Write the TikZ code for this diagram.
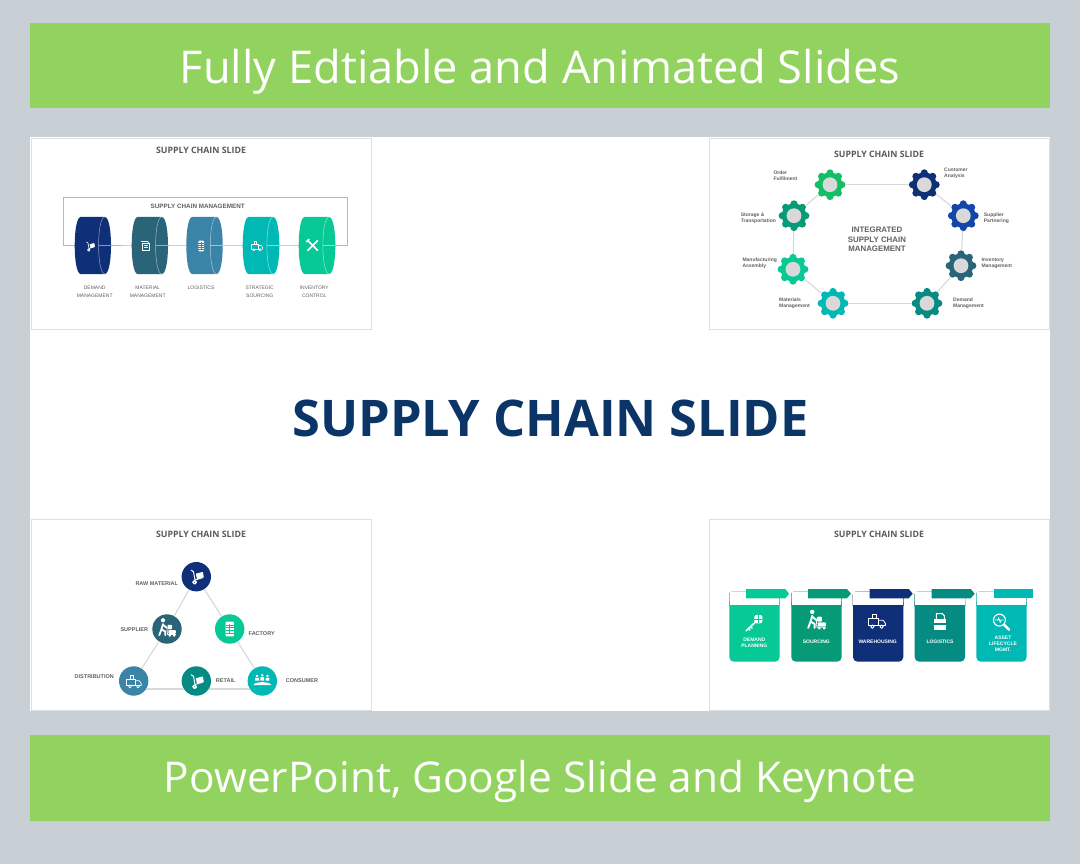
\documentclass[tikz,border=0pt]{standalone}
\usepackage{fontspec}
\setmainfont{Open Sans}
\newfontfamily\labfont{Liberation Sans}
\definecolor{pagegrey}{HTML}{C9D0D5}
\definecolor{bannergreen}{HTML}{92D35F}
\definecolor{titleblue}{HTML}{0A3566}
\definecolor{slidetitle}{HTML}{5A5A5A}
\definecolor{labgrey}{HTML}{606060}
\definecolor{edge}{HTML}{DDE0E3}
\definecolor{linkgrey}{HTML}{D6D8DA}
\definecolor{navy}{HTML}{0F2F78}
\definecolor{slate}{HTML}{2A6478}
\definecolor{steel}{HTML}{3A84A8}
\definecolor{aqua}{HTML}{00B8B4}
\definecolor{mint}{HTML}{06C995}
\definecolor{seagreen}{HTML}{079A76}
\definecolor{deepteal}{HTML}{068B82}
\definecolor{leaf}{HTML}{12BF63}
\definecolor{royal}{HTML}{1246A8}
\definecolor{gearcore}{HTML}{D9D9D9}
\tikzset{
  x=1pt,y=-1pt,
  banner/.style={fill=bannergreen,draw=none},
  slidebox/.style={fill=white,draw=edge,line width=0.9pt},
  slidehead/.style={text=slidetitle,font=\fontsize{8.8}{11}\selectfont\bfseries,inner sep=0},
  lab/.style={text=labgrey,font=\labfont\bfseries\fontsize{5}{6.1}\selectfont,inner sep=0,align=left},
  capt/.style={text=labgrey,font=\labfont\fontsize{5}{8}\selectfont,inner sep=0,align=center},
  tri/.style={text=labgrey,font=\labfont\bfseries\fontsize{5.5}{6}\selectfont,inner sep=0},
  cardtext/.style={text=white,font=\labfont\bfseries\fontsize{5}{6}\selectfont,inner sep=0,align=center},
  centerhead/.style={text=labgrey,font=\labfont\bfseries\fontsize{7.9}{9.3}\selectfont,inner sep=0,align=center},
  link/.style={draw=linkgrey,line width=1.1pt},
  flink/.style={draw=linkgrey!85!black,line width=0.8pt},
  disc/.style={circle,inner sep=0,minimum size=29.4pt},
  ic/.style={draw=white,line cap=round,line join=round},
}
\newcommand{\icoCart}[3]{\begin{scope}[shift={(#1,#2)},scale=#3,line width=#3*1.3pt]
  \draw[ic] (-7,-9) -- (-4,-7) -- (-2,4);
  \draw[ic] (-2,4) -- (8,1);
  \draw[ic,fill=white] (0,-4) -- (8,-6) -- (9,0) -- (1,2) -- cycle;
  \draw[ic,line width=#3*1.8pt] (-2.5,7) circle (2.3);
\end{scope}}
\newcommand{\icoClip}[3]{\begin{scope}[shift={(#1,#2)},scale=#3,line width=#3*1.3pt]
  \draw[ic] (-7,-5) -- (-7,8) -- (7,8) -- (7,-5) -- cycle;
  \draw[ic] (-9,-9) -- (4,-9) -- (6,-5);
  \draw[ic] (-3,-1) -- (3,-1) (-3,3) -- (3,3);
\end{scope}}
\newcommand{\icoBuild}[4]{\begin{scope}[shift={(#1,#2)},scale=#3,line width=#3*0.8pt]
  \fill[white,rounded corners=1] (-6,-11) rectangle (6,11);
  \draw[#4] (-6,-6) -- (6,-6) (-6,-2) -- (6,-2) (-6,2) -- (6,2) (-6,6) -- (6,6) (0,-8) -- (0,8);
\end{scope}}
\newcommand{\icoTruck}[3]{\begin{scope}[shift={(#1,#2)},scale=#3,line width=#3*1.1pt]
  \draw[ic] (-11,-3) rectangle (2,6);
  \draw[ic] (-6,-3) -- (-6,-9) -- (-0.5,-9) -- (-0.5,-3);
  \draw[ic] (2,-1) -- (8,-1) -- (11,3) -- (11,6) -- (2,6);
  \draw[ic] (-6,7.5) circle (2.2) (6,7.5) circle (2.2);
\end{scope}}
\newcommand{\icoTools}[3]{\begin{scope}[shift={(#1,#2)},scale=#3,line width=#3*2.4pt]
  \draw[ic] (-8,-8) -- (8,8);
  \draw[ic] (8,-8) -- (-8,8);
  \draw[ic] (-10,-6) -- (-6,-10);
\end{scope}}
\newcommand{\icoPerson}[3]{\begin{scope}[shift={(#1,#2)},scale=#3,line width=#3*2.4pt]
  \fill[white] (-6,-11) circle (2.8);
  \draw[ic] (-6,-6) -- (-8,1) -- (-11,9);
  \draw[ic] (-8,1) -- (-3,4) -- (-3,9);
  \draw[ic] (-6,-5) -- (-1,-1);
  \fill[white,rounded corners=0.8] (0,-5) rectangle (6,1);
  \fill[white,rounded corners=0.8] (1,2) rectangle (11,7);
  \draw[ic,line width=#3*1.1pt] (-1,-2) -- (0,8) -- (11,8);
  \draw[ic,line width=#3*1.1pt] (3,9.5) circle (1.1) (9,9.5) circle (1.1);
\end{scope}}
\newcommand{\icoKey}[4]{\begin{scope}[shift={(#1,#2)},scale=#3,line width=#3*2.2pt]
  \draw[ic] (-11,10) -- (3,-3);
  \draw[ic] (-8,7) -- (-6,9) (-5,4.5) -- (-3,6.5);
  \fill[white,rounded corners=1.5] (0,-11) rectangle (11,0);
  \draw[#4,line width=#3*1pt] (5.5,-11) -- (5.5,0) (0,-5.5) -- (11,-5.5);
\end{scope}}
\newcommand{\icoDrawer}[3]{\begin{scope}[shift={(#1,#2)},scale=#3,line width=#3*1.3pt]
  \draw[ic] (-5,-3) -- (-5,-11) -- (3,-11) -- (6,-8) -- (6,-3);
  \fill[white] (-8,-3) rectangle (8,2);
  \fill[white] (-8,4) rectangle (8,11);
\end{scope}}
\newcommand{\icoMag}[3]{\begin{scope}[shift={(#1,#2)},scale=#3,line width=#3*1.4pt]
  \draw[ic] (-2,-2) circle (7.5);
  \draw[ic,line width=#3*3pt] (4,4) -- (10,10);
  \draw[ic,line width=#3*0.9pt] (-7,-2) -- (-4,-2) -- (-3,-5) -- (-1,1) -- (0,-2) -- (3,-2);
\end{scope}}
\newcommand{\icoPeople}[3]{\begin{scope}[shift={(#1,#2)},scale=#3,line width=#3*1pt]
  \fill[white] (-7,-6) circle (1.8) (0,-7) circle (1.8) (7,-6) circle (1.8);
  \fill[white] (-9.5,-3.5) rectangle (-4.5,0) (-2.5,-4.5) rectangle (2.5,0) (4.5,-3.5) rectangle (9.5,0);
  \fill[white] (-12,6) .. controls (-10,1) and (10,1) .. (12,6) -- cycle;
\end{scope}}
\newcommand{\gearshape}[4]{%
  \foreach \a in {0,45,...,315}{\fill[#4] ($(#2,#3)+(\a:11.8)$) circle (3.6);}
  \fill[#4] (#2,#3) circle (12.3);
  \fill[gearcore] (#2,#3) circle (7.4);
  \node[circle,inner sep=0,minimum size=30.6pt] (#1) at (#2,#3) {};
}
\newcommand{\cylshape}[3]{%
  \fill[#3] (#1+6,217) -- (#2-6.2,217) .. controls (#2+2.1,217) and (#2+2.1,274) .. (#2-6.2,274)
    -- (#1+6,274) .. controls (#1-2,274) and (#1-2,217) .. (#1+6,217) -- cycle;
  \draw[white,opacity=.55,line width=0.5pt] (#2-6.2,217) .. controls (#2-14.5,217) and (#2-14.5,274) .. (#2-6.2,274);
  \draw[white,opacity=.5,line width=0.7pt] (#2-12.4,245) -- (#2,245);
}
\newcommand{\cardshape}[2]{%
  \draw[#2!70!gray,line width=0.6pt,rounded corners=2.5] (#1,606) -- (#1,592) -- (#1+50.3,592) -- (#1+50.3,606);
  \fill[#2,rounded corners=4.5] (#1,598) rectangle (#1+50.3,661.7);
  \fill[white] (#1+0.3,592.3) rectangle (#1+50,605);
}
\usetikzlibrary{calc}
\begin{document}
\begin{tikzpicture}
\useasboundingbox (0,0) rectangle (1080,864);
\fill[pagegrey] (0,0) rectangle (1080,864);
\fill[banner] (30,23) rectangle (1049.5,108.5);
\fill[banner] (30,735) rectangle (1049.5,820.5);
\node[text=white,font=\fontsize{45.2}{50}\selectfont,inner sep=0] (bantop) at (540,71.5) {Fully Edtiable and Animated Slides};
\node[text=white,font=\fontsize{42.4}{50}\selectfont,inner sep=0] (banbot) at (540,781) {PowerPoint, Google Slide and Keynote};
\fill[white] (30,137) rectangle (1049.5,711);
\node[text=titleblue,font=\fontsize{50.5}{54}\selectfont\bfseries,inner sep=0] (main) at (550.5,418) {SUPPLY CHAIN SLIDE};
\draw[slidebox] (31,138) rectangle (371,329);
\draw[slidebox] (709,138) rectangle (1049,329);
\draw[slidebox] (31,519) rectangle (371,710.5);
\draw[slidebox] (709,519) rectangle (1049,710.5);
\node[slidehead] (t1) at (201,150.8) {SUPPLY CHAIN SLIDE};
\node[slidehead] (t2) at (879,154.3) {SUPPLY CHAIN SLIDE};
\node[slidehead] (t3) at (201,534.8) {SUPPLY CHAIN SLIDE};
\node[slidehead] (t4) at (879,534.8) {SUPPLY CHAIN SLIDE};

% slide 1
\coordinate (c1) at (93,245);
\coordinate (c2) at (150,245);
\coordinate (c3) at (204.5,245);
\coordinate (c4) at (261,245);
\coordinate (c5) at (317,245);
\coordinate (fl) at (63.3,245);
\coordinate (fr) at (347,245);
\coordinate (ftl) at (63.3,197);
\coordinate (ftr) at (347,197);
\draw[flink] (c1) -- (fl) -- (ftl) -- (ftr) -- (fr) -- (c5) -- (c4) -- (c3) -- (c2) -- (c1);
\node[text=labgrey,font=\labfont\bfseries\fontsize{6.3}{7}\selectfont,inner sep=0] (scm) at (197.7,206) {SUPPLY CHAIN MANAGEMENT};
\cylshape{74.7}{111}{navy}
\cylshape{131.7}{168}{slate}
\cylshape{186.3}{222.7}{steel}
\cylshape{242.7}{279.3}{aqua}
\cylshape{298.7}{335.3}{mint}
\icoCart{90}{246.5}{0.5}
\icoClip{146}{246}{0.5}
\icoBuild{201.3}{246}{0.48}{steel}
\icoTruck{257}{246}{0.52}
\icoTools{312.7}{245.5}{0.62}
\node[capt] (l1) at (94.7,291.8) {DEMAND\\MANAGEMENT};
\node[capt] (l2) at (147.7,291.8) {MATERIAL\\MANAGEMENT};
\node[capt] (l3) at (201,287.8) {LOGISTICS};
\node[capt] (l4) at (259.7,291.8) {STRATEGIC\\SOURCING};
\node[capt] (l5) at (314.3,291.8) {INVENTORY\\CONTROL};

% slide 2
\gearshape{g1}{830}{184.7}{leaf}
\gearshape{g2}{924.3}{184.7}{navy}
\gearshape{g3}{963.3}{215.7}{royal}
\gearshape{g4}{961}{265.7}{slate}
\gearshape{g5}{927}{303.3}{deepteal}
\gearshape{g6}{833}{303.3}{aqua}
\gearshape{g7}{793}{269.3}{mint}
\gearshape{g8}{794}{215.7}{seagreen}
\draw[link] (g1) -- (g2);
\draw[link] (g2) -- (g3);
\draw[link] (g3) -- (g4);
\draw[link] (g4) -- (g5);
\draw[link] (g5) -- (g6);
\draw[link] (g6) -- (g7);
\draw[link] (g7) -- (g8);
\draw[link] (g8) -- (g1);
\node[centerhead] (ischead) at (877,239.3) {INTEGRATED\\SUPPLY CHAIN\\MANAGEMENT};
\node[lab,anchor=west] (n1) at (773.3,175.3) {Order\\Fulfilment};
\node[lab,anchor=west] (n2) at (944,173.3) {Customer\\Analysis};
\node[lab,anchor=west] (n3) at (983.7,218.3) {Supplier\\Partnering};
\node[lab,anchor=west] (n4) at (981.3,263.3) {Inventory\\Management};
\node[lab,anchor=west] (n5) at (953,303) {Demand\\Management};
\node[lab,anchor=west] (n6) at (779,303) {Materials\\Management};
\node[lab,anchor=west] (n7) at (742.3,263.3) {Manufacturing\\Assembly};
\node[lab,anchor=west] (n8) at (740.7,218.3) {Storage \&\\Transportation};

% slide 3
\node[disc,fill=navy] (raw) at (196.3,576.7) {};
\node[disc,fill=slate] (sup) at (167,629) {};
\node[disc,fill=mint] (fac) at (229.7,629) {};
\node[disc,fill=steel] (dis) at (133.7,681) {};
\node[disc,fill=deepteal] (ret) at (196.3,681) {};
\node[disc,fill=aqua] (con) at (262.3,681) {};
\draw[link] (raw) -- (sup);
\draw[link] (sup) -- (dis);
\draw[link] (raw) -- (fac);
\draw[link] (fac) -- (con);
\draw[link,line width=1.5pt] (dis.-32) -- (ret.212);
\draw[link,line width=1.5pt] (ret.-32) -- (con.212);
\icoCart{196.5}{577}{0.75}
\icoPerson{167.5}{628.5}{0.75}
\icoBuild{229.7}{629}{0.68}{mint}
\icoTruck{134}{681.5}{0.66}
\icoCart{196.5}{681.5}{0.75}
\icoPeople{262.3}{680.5}{0.75}
\node[tri] (traw) at (156.7,584) {RAW MATERIAL};
\node[tri] (tsup) at (134.3,629.7) {SUPPLIER};
\node[tri] (tfac) at (261.7,633.3) {FACTORY};
\node[tri] (tdis) at (94.3,676.3) {DISTRIBUTION};
\node[tri] (tret) at (225.7,680.7) {RETAIL};
\node[tri] (tcon) at (302,680.7) {CONSUMER};

% slide 4
\cardshape{729.3}{mint}
\cardshape{791.3}{seagreen}
\cardshape{853}{navy}
\cardshape{914.7}{deepteal}
\cardshape{976.3}{aqua}
\fill[mint] (746,589) -- (785.3,589) -- (789,593.7) -- (785.3,598.3) -- (746,598.3) -- cycle;
\fill[seagreen] (808,589) -- (847,589) -- (851,593.7) -- (847,598.3) -- (808,598.3) -- cycle;
\fill[navy] (869.7,589) -- (908.7,589) -- (912.7,593.7) -- (908.7,598.3) -- (869.7,598.3) -- cycle;
\fill[deepteal] (931.7,589) -- (970.7,589) -- (974.7,593.7) -- (970.7,598.3) -- (931.7,598.3) -- cycle;
\fill[aqua] (993.7,589) rectangle (1033.3,598.3);
\icoKey{754.3}{623.3}{0.74}{mint}
\icoPerson{817}{620.7}{0.8}
\icoTruck{877}{621}{0.76}
\icoDrawer{940}{621.7}{0.74}
\icoMag{1001}{621.7}{0.8}
\node[cardtext] (k1) at (754.3,642.5) {DEMAND\\PLANNING};
\node[cardtext] (k2) at (816.3,642) {SOURCING};
\node[cardtext] (k3) at (877.7,642) {WAREHOUSING};
\node[cardtext] (k4) at (940,642) {LOGISTICS};
\node[cardtext] (k5) at (1003,643.3) {ASSET\\LIFECYCLE\\MGMT.};
\end{tikzpicture}
\end{document}
